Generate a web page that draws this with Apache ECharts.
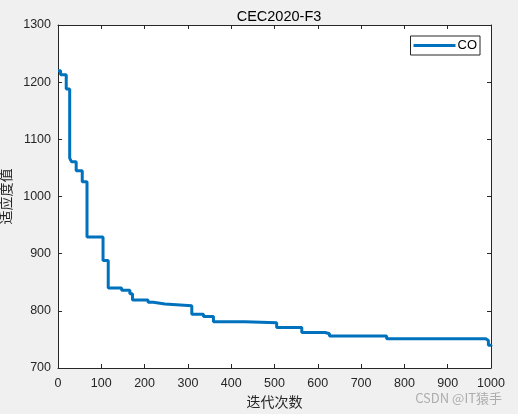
<!DOCTYPE html>
<html>
<head>
<meta charset="utf-8">
<script src="https://cdn.jsdelivr.net/npm/echarts@6/dist/echarts.min.js"></script>
<style>
	html, body { margin: 0; padding: 0; background: #f0f0f0; }
	#chart { width: 518px; height: 414px; }
</style>
</head>
<body>
<div id="chart"></div>
<script>
// iteration where the best fitness changes, and the value it changes to
const iterations = [0, 6, 19, 27, 31, 42, 56, 67, 104, 116, 147, 166, 172, 208, 220, 247, 309, 336, 359, 432, 505, 563, 617, 627, 759, 988, 994, 1000];
const fitness = [1220, 1213, 1188, 1067, 1061, 1045, 1026, 929, 888, 840, 836, 830, 819, 815, 812, 809, 794, 790, 781, 779, 771, 762, 760, 756, 751, 748, 740, 738];
const seriesName = "CO";
const yTicks = [700, 1300, 100]; // min, max, step
const xTicks = [0, 1000, 100];

const textColor = "#262626";
const baseFont = "'Liberation Sans', Arial, sans-serif";
const cjkFont = "'Noto Sans CJK SC', sans-serif";

const chart = echarts.init(document.getElementById("chart"));

const points = iterations.map((it, i) => [it, fitness[i]]);

const axisCommon = {
	axisLine: { show: true, onZero: false, lineStyle: { color: textColor, width: 1 } },
	axisTick: { show: true, inside: true, length: 4, lineStyle: { color: textColor } },
	splitLine: { show: false }
};

const plain = v => String(v);

chart.setOption({
	backgroundColor: "#f0f0f0",
	animation: false,
	title: {
		text: "CEC2020-F3",
		left: 274,
		textAlign: "center",
		top: 4,
		textStyle: { fontFamily: baseFont, fontSize: 14.5, fontWeight: "normal", color: "#000" }
	},
	grid: {
		left: 58,
		right: 27,
		top: 25,
		bottom: 46,
		containLabel: false,
		outerBoundsMode: "none",
		show: true,
		backgroundColor: "#fff",
		borderWidth: 0
	},
	legend: {
		data: [seriesName],
		right: 38,
		top: 36,
		orient: "vertical",
		backgroundColor: "#fff",
		borderColor: textColor,
		borderWidth: 1,
		borderRadius: 0,
		padding: [3, 3, 3, 3],
		itemWidth: 42,
		itemHeight: 3,
		itemGap: 0,
		icon: "rect",
		textStyle: { fontFamily: baseFont, fontSize: 13, color: "#000", padding: [0, 0, 0, -3] }
	},
	xAxis: [
		{
			type: "value",
			min: xTicks[0],
			max: xTicks[1],
			interval: xTicks[2],
			name: "迭代次数",
			nameLocation: "middle",
			nameGap: 26,
			nameTextStyle: { fontFamily: cjkFont, fontSize: 14, color: textColor },
			axisLabel: { fontFamily: baseFont, fontSize: 12.5, color: textColor, margin: 9, formatter: plain },
			...axisCommon
		},
		{
			type: "value",
			position: "top",
			min: xTicks[0],
			max: xTicks[1],
			interval: xTicks[2],
			axisLabel: { show: false },
			...axisCommon
		}
	],
	yAxis: [
		{
			type: "value",
			min: yTicks[0],
			max: yTicks[1],
			interval: yTicks[2],
			name: "适应度值",
			nameLocation: "middle",
			nameGap: 43,
			nameTextStyle: { fontFamily: cjkFont, fontSize: 14, color: textColor },
			axisLabel: { fontFamily: baseFont, fontSize: 12.5, color: textColor, margin: 7, formatter: plain },
			...axisCommon
		},
		{
			type: "value",
			position: "right",
			min: yTicks[0],
			max: yTicks[1],
			interval: yTicks[2],
			axisLabel: { show: false },
			...axisCommon
		}
	],
	series: [
		{
			name: seriesName,
			type: "line",
			step: "end",
			data: points,
			showSymbol: false,
			symbol: "none",
			lineStyle: { color: "#0072BD", width: 3 },
			itemStyle: { color: "#0072BD" }
		}
	],
	graphic: [
		{
			type: "text",
			right: 16,
			top: 392,
			style: {
				text: "CSDN @IT猿手",
				fontFamily: cjkFont,
				fontSize: 13,
				fill: "rgba(150,150,150,0.75)"
			}
		}
	]
});
</script>
</body>
</html>
